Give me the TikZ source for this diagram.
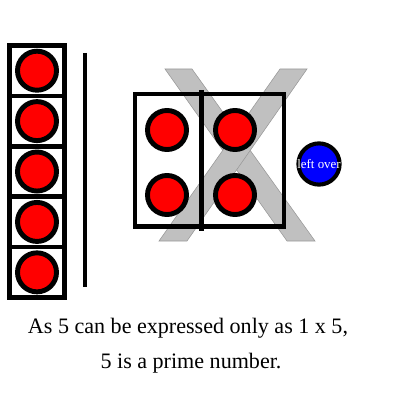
\documentclass[tikz,border=0pt]{standalone}
\usepackage{fontspec}
\setmainfont{Liberation Serif}
\usetikzlibrary{positioning}
\definecolor{silver}{RGB}{192,192,192}

\begin{document}
\begin{tikzpicture}[x=0.025cm, y=-0.025cm, node distance=0pt]
\tikzstyle{cell}=[rectangle, draw, line width=3.2pt, outer sep=0pt, minimum width=1.375cm, minimum height=1.26cm, inner sep=0pt]
\tikzstyle{ball}=[circle, draw, line width=3.5pt, fill=red, minimum size=0.975cm, inner sep=0pt]
\tikzstyle{half}=[rectangle, draw, line width=3.3pt, outer sep=0pt, inner sep=0pt, minimum height=3.3125cm]
\tikzstyle{stroke}=[fill=silver, draw=gray!80, line width=0.4pt]
\tikzstyle{caption}=[anchor=base, font=\fontsize{15.7}{18}\selectfont]
\useasboundingbox (0,0) rectangle (400,400);
% five in one column
\node[cell] (c1) at (37,70.7) {};
\node[cell, below=of c1] (c2) {};
\node[cell, below=of c2] (c3) {};
\node[cell, below=of c3] (c4) {};
\node[cell, below=of c4] (c5) {};
\node[ball] (b1) at (c1) {};
\node[ball] (b2) at (c2) {};
\node[ball] (b3) at (c3) {};
\node[ball] (b4) at (c4) {};
\node[ball] (b5) at (c5) {};
\coordinate (bartop) at (85,53);
\coordinate (barbot) at (85,287);
\draw[line width=3.2pt] (bartop) -- (barbot);
% the cross
\draw[stroke] (165,69) -- (192,69) -- (315,241) -- (287,241) -- cycle;
\draw[stroke] (280,69) -- (307,69) -- (187,241) -- (159,241) -- cycle;
% two groups of two
\node[half, minimum width=1.6625cm] (lbox) at (168.25,160.25) {};
\node[half, minimum width=2.0625cm, right=of lbox] (rbox) {};
\draw[line width=3.3pt] ([yshift=3pt]lbox.north east) -- ([yshift=-3.5pt]lbox.south east);
\node[ball] (l1) at (167,130) {};
\node[ball] (l2) at (167,195) {};
\node[ball] (r1) at (235,130) {};
\node[ball] (r2) at (235,195) {};
\node[ball, fill=blue, line width=2.9pt, minimum size=1.03cm] (rest) at (319,164) {};
\node[text=white, font=\fontsize{9.2}{10}\selectfont, inner sep=0pt] (restlbl) at (rest) {left over};
% caption
\node[caption] (line1) at (188,333) {As 5 can be expressed only as 1 x 5,};
\node[caption] (line2) at (191,368) {5 is a prime number.};
\end{tikzpicture}
\end{document}
